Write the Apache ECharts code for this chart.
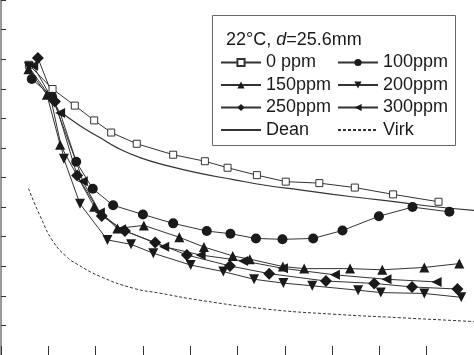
<!DOCTYPE html>
<html>
<head>
<meta charset="utf-8">
<script src="https://cdn.jsdelivr.net/npm/echarts@6/dist/echarts.min.js"></script>
<style>
  html, body { margin: 0; padding: 0; background: #fff; }
  #chart { width: 474px; height: 355px; }
</style>
</head>
<body>
<div id="chart"></div>
<script>
// values (x in tick units, y in tick units)
const ppm0 = [[0.59, 9.81], [1.09, 8.99], [1.56, 8.43], [1.97, 7.93], [2.33, 7.52], [2.87, 7.14],
  [3.64, 6.77], [4.31, 6.55], [4.79, 6.33], [5.41, 6.08], [6.02, 5.86], [6.73, 5.81],
  [7.48, 5.66], [8.29, 5.43], [9.25, 5.18]];
const ppm100 = [[0.65, 9.33], [1.08, 8.73], [1.59, 6.53], [1.94, 5.62], [2.37, 5.06], [3.00, 4.75],
  [3.64, 4.45], [4.35, 4.19], [4.85, 4.10], [5.39, 3.94], [5.95, 3.91], [6.60, 3.94],
  [7.22, 4.21], [7.99, 4.69], [8.70, 5.00], [9.48, 4.84]];
const ppm150 = [[0.58, 9.66], [0.97, 8.80], [1.25, 7.11], [1.97, 5.01], [2.46, 4.28], [3.02, 4.38],
  [3.77, 3.98], [4.29, 3.65], [4.90, 3.35], [5.26, 3.24], [5.96, 2.99], [6.41, 2.92],
  [7.38, 2.92], [8.06, 2.88], [8.95, 2.96], [9.69, 3.09]];
const ppm200 = [[0.59, 9.74], [1.05, 8.69], [1.33, 6.63], [1.67, 5.11], [2.25, 3.89], [2.75, 3.74],
  [3.22, 3.44], [4.01, 3.04], [4.70, 2.82], [5.35, 2.56], [5.97, 2.43], [6.58, 2.34],
  [7.55, 2.19], [8.03, 2.11], [8.95, 2.08], [9.73, 1.95]];
const ppm250 = [[0.78, 10.04], [1.14, 8.57], [1.61, 6.07], [2.13, 4.70], [2.62, 4.19], [3.26, 3.80],
  [3.93, 3.38], [4.84, 3.01], [5.67, 2.75], [6.87, 2.50], [7.89, 2.42], [8.69, 2.30],
  [9.65, 2.23]];
const ppm300 = [[0.68, 9.78], [1.25, 8.18], [1.73, 5.87], [2.09, 4.82], [2.54, 4.25], [3.45, 3.66],
  [4.22, 3.38], [5.12, 3.18], [5.96, 2.93], [7.06, 2.71], [8.15, 2.56], [9.21, 2.47]];
const dean = [[1.25, 8.23], [1.67, 7.75], [2.09, 7.35], [2.45, 7.01], [2.94, 6.67], [3.51, 6.40],
  [4.21, 6.14], [4.91, 5.93], [5.62, 5.73], [6.32, 5.58], [7.02, 5.43], [7.74, 5.29],
  [8.44, 5.16], [9.13, 5.02], [10.0, 4.89]];
const virk = [[0.58, 5.63], [0.83, 4.69], [1.10, 3.84], [1.40, 3.30], [1.61, 3.07], [2.09, 2.66],
  [2.79, 2.26], [3.36, 2.09], [4.21, 1.85], [5.62, 1.55], [7.02, 1.38], [8.44, 1.26], [10.0, 1.13]];

const xTicks = { min: 0, max: 10, step: 1 };
const yTicks = { min: 0, max: 12, step: 1 };

const font = 'Liberation Sans, Arial, Helvetica, sans-serif';
const ink = '#1a1a1a';

function markSeries(name, data, symbol, size, rotate, hollow) {
  return {
    name: name,
    type: 'line',
    data: data,
    symbol: symbol,
    symbolSize: size,
    symbolRotate: rotate,
    showSymbol: true,
    lineStyle: { color: '#333', width: 1 },
    itemStyle: hollow
      ? { color: '#fff', borderColor: '#333', borderWidth: 1 }
      : { color: ink, borderWidth: 0 },
    z: 3
  };
}

const chart = echarts.init(document.getElementById('chart'));

const legendText = { fontFamily: font, fontSize: 18, color: ink };

chart.setOption({
  animation: false,
  backgroundColor: '#fff',
  grid: { left: 1, right: 0, top: 0, bottom: 0 },
  title: {
    left: 226,
    top: 31,
    padding: 0,
    text: '22°C, {i|d}=25.6mm',
    textStyle: {
      fontFamily: font, fontSize: 18, fontWeight: 'normal', color: ink,
      rich: { i: { fontFamily: font, fontSize: 18, fontStyle: 'italic', color: ink } }
    }
  },
  legend: [
    {
      left: 220, top: 53.5, orient: 'vertical', padding: 0,
      itemWidth: 40, itemHeight: 9, itemGap: 4.5,
      selectedMode: false, textStyle: legendText,
      data: ['0 ppm', '150ppm', '250ppm',
        { name: 'Dean', itemStyle: { color: 'rgba(0,0,0,0)', borderWidth: 0 } }]
    },
    {
      left: 337, top: 53.5, orient: 'vertical', padding: 0,
      itemWidth: 40, itemHeight: 9, itemGap: 4.5,
      selectedMode: false, textStyle: legendText,
      data: ['100ppm', '200ppm', '300ppm',
        { name: 'Virk', itemStyle: { color: 'rgba(0,0,0,0)', borderWidth: 0 } }]
    }
  ],
  graphic: [
    {
      type: 'rect',
      shape: { x: 212.5, y: 15.5, width: 243, height: 130 },
      style: { fill: 'rgba(0,0,0,0)', stroke: '#666', lineWidth: 1 },
      z: 10
    }
  ],
  xAxis: {
    type: 'value',
    min: xTicks.min, max: xTicks.max, interval: xTicks.step,
    axisLine: { show: false },
    axisTick: { show: true, inside: true, length: 9, lineStyle: { color: '#333', width: 1 } },
    axisLabel: { show: false },
    splitLine: { show: false }
  },
  yAxis: {
    type: 'value',
    min: yTicks.min, max: yTicks.max, interval: yTicks.step,
    axisLine: { show: true, lineStyle: { color: '#999', width: 2 } },
    axisTick: { show: true, inside: true, length: 5, lineStyle: { color: '#333', width: 1 } },
    axisLabel: { show: false },
    splitLine: { show: false }
  },
  series: [
    markSeries('0 ppm', ppm0, 'rect', 7, 0, true),
    markSeries('100ppm', ppm100, 'circle', 10, 0, false),
    markSeries('150ppm', ppm150, 'triangle', 10, 0, false),
    markSeries('200ppm', ppm200, 'triangle', 10, 180, false),
    markSeries('250ppm', ppm250, 'diamond', 12, 0, false),
    markSeries('300ppm', ppm300, 'triangle', 10, 90, false),
    {
      name: 'Dean', type: 'line', data: dean, smooth: true, showSymbol: false, symbol: 'none',
      lineStyle: { color: '#333', width: 1.2 }, itemStyle: { color: '#333' }, z: 2
    },
    {
      name: 'Virk', type: 'line', data: virk, smooth: true, showSymbol: false, symbol: 'none',
      lineStyle: { color: '#333', width: 1, type: [3, 2] }, itemStyle: { color: '#333' }, z: 2
    }
  ]
});

window.addEventListener('resize', () => {
  chart.resize();
});
</script>
</body>
</html>
